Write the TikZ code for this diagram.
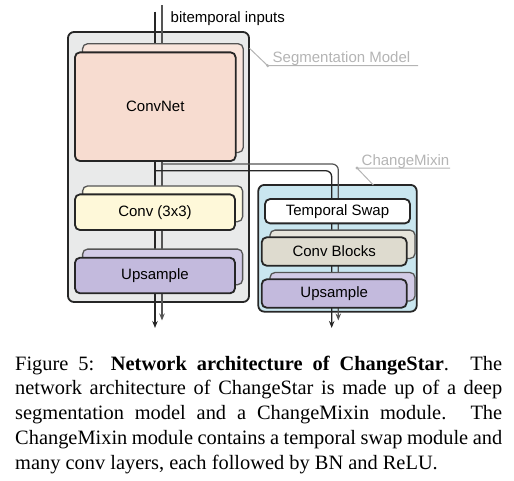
\documentclass[tikz,border=0pt]{standalone}
\usepackage{fontspec}
\setmainfont{Liberation Serif}
\newfontfamily\archfont{Liberation Sans}
\usetikzlibrary{arrows.meta}

\definecolor{segFill}{HTML}{E9EAEA}
\definecolor{mixFill}{HTML}{C9E6EF}
\definecolor{convNetFill}{HTML}{F7DCD0}
\definecolor{convFill}{HTML}{FEF8D9}
\definecolor{upFill}{HTML}{C3BADD}
\definecolor{blockFill}{HTML}{DEDBCF}
\definecolor{edgeDark}{HTML}{262626}
\definecolor{edgeGray}{HTML}{555555}
\definecolor{noteGray}{HTML}{B4B4B4}

\tikzset{
  groupbox/.style={draw=edgeDark, line width=1.8pt, rounded corners=6pt, inner sep=0pt},
  backbox/.style={draw=edgeGray, line width=1.3pt, rounded corners=5pt, inner sep=0pt},
  blockbox/.style={draw=edgeDark, line width=1.8pt, rounded corners=5pt, inner sep=0pt,
    font=\archfont\fontsize{15}{18}\selectfont},
  wireA/.style={draw=edgeDark, line width=1.3pt, -{Stealth[length=7pt,width=5.5pt]}},
  wireB/.style={draw=edgeGray, line width=1.2pt, -{Stealth[length=7pt,width=5.5pt]}},
  notetext/.style={text=noteGray, inner sep=0pt, anchor=base west, font=\archfont\fontsize{15}{18}\selectfont},
  noteline/.style={draw=noteGray, line width=1pt}
}

\begin{document}
\begin{tikzpicture}[x=1pt,y=-1pt]
\useasboundingbox (0,0) rectangle (514,480);

\node[groupbox, fill=segFill, minimum width=181, minimum height=270] (nSegModel) at (158.5,167) {};
\node[groupbox, fill=mixFill, minimum width=158.4, minimum height=126.7] (nMixin) at (337.5,248.3) {};

\coordinate (cInAPt) at (155,11.5);
\coordinate (cInBPt) at (162,5);
\coordinate (cOutAPt) at (155,328);
\coordinate (cOutBPt) at (162,320.5);
\coordinate (cSplitAPt) at (155,170.7);
\coordinate (cSplitBPt) at (162,164);
\coordinate (cMixOutAPt) at (331.7,328);
\coordinate (cMixOutBPt) at (338.3,320.5);

\draw[wireB] (cInBPt)--(cOutBPt);
\draw[wireB, rounded corners=6pt] (cSplitBPt) -| (cMixOutBPt);
\draw[wireA] (cInAPt)--(cOutAPt);
\draw[wireA, rounded corners=6pt] (cSplitAPt) -| (cMixOutAPt);

\coordinate (cConvNetPt) at (155.3,106.7);
\coordinate (cConvPt) at (155,212.2);
\coordinate (cUpAPt) at (155,275.5);
\coordinate (cSwapPt) at (337.5,211.2);
\coordinate (cBlocksPt) at (334.2,251.5);
\coordinate (cUpBPt) at (334.2,293.5);

\foreach \p/\c/\w/\h/\dx/\dy in {ConvNetPt/convNetFill/160.7/108.7/7.6/-8.6, ConvPt/convFill/160/35.7/7.6/-8.4, UpAPt/upFill/160/35.6/7.6/-8.6, BlocksPt/blockFill/145/28.4/8.3/-7.2, UpBPt/upFill/145/28.4/8.3/-6.8}
{
    \node[backbox, fill=\c!75!white, minimum width=\w, minimum height=\h] at ([shift={(\dx,\dy)}]c\p) {};
};

\node[blockbox, fill=convNetFill, minimum width=160.7, minimum height=108.7] (nConvNet) at (cConvNetPt) {ConvNet};
\node[blockbox, fill=convFill, minimum width=160, minimum height=35.7] (nConv) at (cConvPt) {Conv (3x3)};
\node[blockbox, fill=upFill, minimum width=160, minimum height=35.6] (nUpA) at (cUpAPt) {Upsample};
\node[blockbox, fill=white, minimum width=145, minimum height=24.3] (nSwap) at (cSwapPt) {Temporal Swap};
\node[blockbox, fill=blockFill, minimum width=145, minimum height=28.4] (nBlocks) at (cBlocksPt) {Conv Blocks};
\node[blockbox, fill=upFill, minimum width=145, minimum height=28.4] (nUpB) at (cUpBPt) {Upsample};

\node[inner sep=0pt, anchor=base west, font=\archfont\fontsize{15}{18}\selectfont] (nInputs) at (170.5,22.8) {bitemporal inputs};

\coordinate (cSegTipPt) at (249.5,48.3);
\coordinate (cSegDotPt) at (267.7,65.7);
\coordinate (cSegEndPt) at (418,65.7);
\node[notetext] (nSegLabel) at (272.5,62.5) {Segmentation Model};
\draw[noteline] (cSegTipPt)--(cSegDotPt)--(cSegEndPt);
\fill[noteGray] (cSegDotPt) circle (1.7pt);

\coordinate (cMixTipPt) at (373.3,185);
\coordinate (cMixDotPt) at (357,168);
\coordinate (cMixEndPt) at (450,168);
\node[notetext] (nMixLabel) at (361.5,165.3) {ChangeMixin};
\draw[noteline] (cMixTipPt)--(cMixDotPt)--(cMixEndPt);
\fill[noteGray] (cMixDotPt) circle (1.7pt);

\node[anchor=base west, inner sep=0pt, text width=487pt, align=justify, font=\fontsize{20.4}{24.8}\selectfont] (nCaption) at (15,370) {Figure 5: \textbf{Network architecture of ChangeStar}. The\linebreak network architecture of ChangeStar is made up of a deep\linebreak segmentation model and a ChangeMixin module. The\linebreak ChangeMixin module contains a temporal swap module and\linebreak many conv layers, each followed by BN and ReLU.};

\end{tikzpicture}
\end{document}
